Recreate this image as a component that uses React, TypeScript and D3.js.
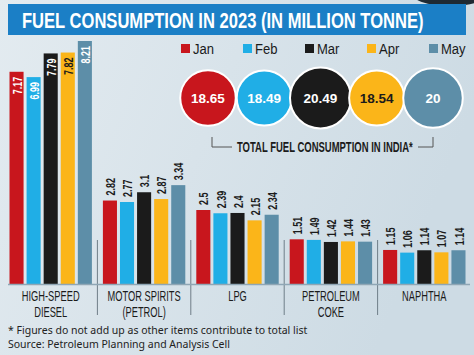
import React from "react";
import * as d3 from "d3";

const categories = ["HIGH-SPEED|DIESEL", "MOTOR SPIRITS|(PETROL)", "LPG", "PETROLEUM|COKE", "NAPHTHA"];
const months = ["Jan", "Feb", "Mar", "Apr", "May"];
const jan = [7.17, 2.82, 2.5, 1.51, 1.15];
const feb = [6.99, 2.77, 2.39, 1.49, 1.06];
const mar = [7.79, 3.1, 2.4, 1.42, 1.14];
const apr = [7.82, 2.87, 2.15, 1.44, 1.07];
const may = [8.21, 3.34, 2.34, 1.43, 1.14];
const totals = [18.65, 18.49, 20.49, 18.54, 20];
const colors = ["#c8161d", "#20aee6", "#1b1b1b", "#fbb519", "#5d8ea8"];
const circleText = ["#ffffff", "#ffffff", "#ffffff", "#1b1b1b", "#ffffff"];

const W = 474, H = 355;
const SANS = "'Liberation Sans', Arial, sans-serif";

type NTProps = {
  x: number; y: number; sx: number; size: number; bold?: boolean; fill?: string;
  anchor?: string; rotate?: number; baseline?: string; children: React.ReactNode;
};
function NarrowText({ x, y, sx, size, bold, fill = "#1b1b1b", anchor = "start", rotate = 0, baseline, children }: NTProps) {
  return (
    <text
      transform={`translate(${x},${y}) rotate(${rotate}) scale(${sx},1)`}
      fontFamily={SANS}
      fontWeight={bold ? "bold" : "normal"}
      fontSize={size}
      fill={fill}
      textAnchor={anchor}
      dominantBaseline={baseline}
    >
      {children}
    </text>
  );
}

export default function App() {
  const series = [jan, feb, mar, apr, may];
  const baseY = 284;
  const maxV = d3.max(series.flat()) as number;
  const y = d3.scaleLinear().domain([0, maxV]).range([baseY, baseY - 243]);
  const x0 = d3.scaleBand().domain(categories).range([4, 471]).padding(0);
  const inner = d3.scaleBand().domain(months).range([5.5, x0.bandwidth() - 5.5]).paddingInner(3 / 17).paddingOuter(0);
  const rScale = d3.scaleLinear().domain([0, 20.49]).range([0, 30.5]);
  const cx = d3.scalePoint().domain(months).range([208, 433]);
  const legendX = d3.scalePoint().domain(months).range([181, 429]);

  return (
    <svg width={W} height={H} style={{ position: "absolute", left: 0, top: 0, display: "block" }}>
      <defs>
        <linearGradient id="bg" x1="0" y1="0" x2="1" y2="0.3">
          <stop offset="0" stopColor="#e3ebf0" />
          <stop offset="1" stopColor="#cddbe4" />
        </linearGradient>
      </defs>
      <rect x={0} y={0} width={W} height={H} fill="url(#bg)" />
      <ellipse cx={450} cy={-8} rx={40} ry={14} fill="#1e2a33" />
      <rect x={8} y={4} width={458} height={31} fill="#1b7fc6" />
      <NarrowText x={22} y={28} sx={0.753} size={22} bold fill="#fff">
        FUEL CONSUMPTION IN 2023 (IN MILLION TONNE)
      </NarrowText>

      {/* legend */}
      {months.map((m, i) => (
        <g key={m}>
          <rect x={legendX(m)!} y={44} width={9} height={9} fill={colors[i]} />
          <NarrowText x={(legendX(m) as number) + 12} y={54} sx={0.9} size={14.5}>{m}</NarrowText>
        </g>
      ))}

      {/* circles */}
      {months.map((m, i) => (
        <g key={m}>
          <circle cx={cx(m)!} cy={98} r={rScale(totals[i])} fill={colors[i]} stroke="#fff" strokeWidth={2} />
          <text x={cx(m)!} y={98} textAnchor="middle" dominantBaseline="central" fontFamily={SANS} fontWeight="bold" fontSize={13.5} fill={circleText[i]}>
            {totals[i]}
          </text>
        </g>
      ))}
      <path d="M212,137 V147 H232 M418,147 H433 V137" fill="none" stroke="#555" strokeWidth={1} />
      <NarrowText x={237} y={152} sx={0.654} size={14.5} bold>
        TOTAL FUEL CONSUMPTION IN INDIA*
      </NarrowText>

      {/* bars */}
      {categories.map((c, ci) => (
        <g key={c} transform={`translate(${x0(c)},0)`}>
          {months.map((m, mi) => {
            const v = series[mi][ci];
            const bx = inner(m)!;
            const top = y(v);
            const inside = ci === 0;
            const tx = bx + inner.bandwidth() / 2 + 0.5;
            const ty = inside ? top + 5 : top - 5;
            const fill = inside ? (mi === 3 ? "#1b1b1b" : "#ffffff") : "#1b1b1b";
            return (
              <g key={m}>
                <rect x={bx} y={top} width={inner.bandwidth()} height={baseY - top} fill={colors[mi]} />
                <NarrowText x={tx} y={ty} rotate={-90} sx={0.72} size={12.5} bold fill={fill}
                  anchor={inside ? "end" : "start"} baseline="central">
                  {v}
                </NarrowText>
              </g>
            );
          })}
          {c.split("|").map((line, li) => (
            <NarrowText key={li} x={x0.bandwidth() / 2} y={301 + li * 16} sx={0.62} size={15} anchor="middle">
              {line}
            </NarrowText>
          ))}
        </g>
      ))}
      {categories.slice(1).map((c) => (
        <line key={c} x1={x0(c)!} x2={x0(c)!} y1={240} y2={315} stroke="#6f7e88" strokeWidth={1} />
      ))}
      <line x1={8} x2={470} y1={baseY + 0.5} y2={baseY + 0.5} stroke="#8fa6b5" strokeWidth={1.5} />

      <text x={8} y={334} fontFamily="'Noto Sans', 'Open Sans', sans-serif" fontSize={10.5} fill="#222">
        * Figures do not add up as other items contribute to total list
      </text>
      <text x={8} y={348} fontFamily="'Noto Sans', 'Open Sans', sans-serif" fontSize={10.5} fill="#222">
        Source: Petroleum Planning and Analysis Cell
      </text>
    </svg>
  );
}
